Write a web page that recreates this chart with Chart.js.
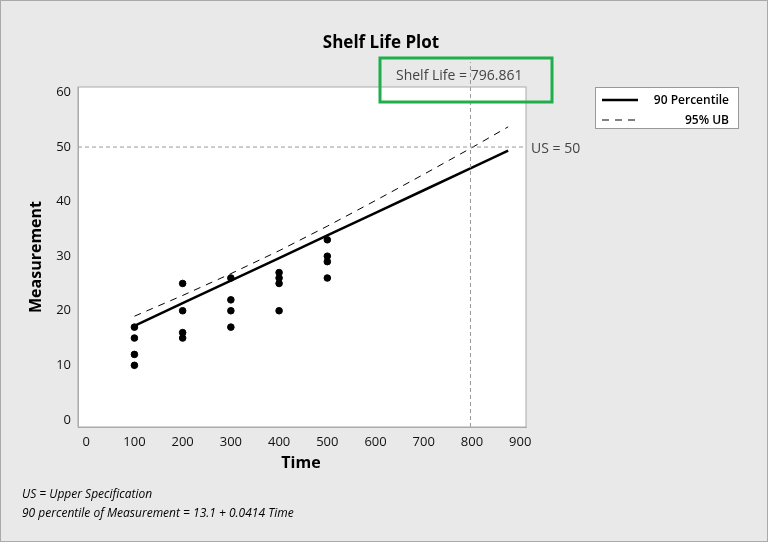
<!DOCTYPE html><html><head><script src="https://cdn.jsdelivr.net/npm/chart.js"></script>
<style>body{margin:0;background:#fff}#w{position:relative;width:768px;height:542px}</style></head><body><div id="w"><canvas id="c" width="768" height="542"></canvas></div>
<script>
const times=[100,100,100,100,200,200,200,200,300,300,300,300,400,400,400,400,500,500,500,500];
const meas=[17,15,12,10,25,20,16,15,26,22,20,17,27,26,25,20,33,30,29,26];
const lineX=[100,200,300,400,500,600,700,800,875];
const pct90=[17.24,21.38,25.52,29.66,33.8,37.94,42.08,46.22,49.33];
const ub95=[19.0,22.8,26.8,31.0,35.5,40.2,45.0,49.9,53.7];
const shelfLife=796.861, US=50;
const deco={id:'deco',beforeDraw(ch){const c=ch.ctx;c.save();c.fillStyle='#e9e9e9';c.fillRect(0,0,768,542);c.strokeStyle='#aaa';c.strokeRect(0.5,0.5,767,541);
const a=ch.chartArea;c.fillStyle='#fff';c.fillRect(a.left,a.top,a.right-a.left,a.bottom-a.top);c.restore();},
afterDraw(ch){const c=ch.ctx,a=ch.chartArea,xs=ch.scales.x,ys=ch.scales.y;c.save();
c.strokeStyle='#999';c.lineWidth=1;c.setLineDash([4,3]);const px=xs.getPixelForValue(shelfLife),py=ys.getPixelForValue(US);
c.beginPath();c.moveTo(px,a.bottom);c.lineTo(px,62);c.moveTo(a.left,py);c.lineTo(a.right,py);c.stroke();c.setLineDash([]);
c.strokeStyle='#aaa';c.strokeRect(a.left,a.top,a.right-a.left,a.bottom-a.top);
c.fillStyle='#000';c.font='bold 17px "Open Sans", sans-serif';c.textAlign='center';c.fillText('Shelf Life Plot',381,48);
c.font='bold 16px "Open Sans", sans-serif';c.fillText('Time',301,468);
c.save();c.translate(41,257);c.rotate(-Math.PI/2);c.fillText('Measurement',0,0);c.restore();
c.fillStyle='#444';c.font='14px "Open Sans", sans-serif';c.textAlign='left';c.fillText('US = 50',531,153);
c.fillText('Shelf Life = '+shelfLife,396,80);
c.strokeStyle='#1fae4b';c.lineWidth=3;c.strokeRect(380,58,172,44);
c.strokeStyle='#999';c.lineWidth=1;c.fillStyle='#fff';c.fillRect(595,87,143,41);c.strokeRect(595.5,87.5,143,41);
c.strokeStyle='#000';c.lineWidth=2.5;c.beginPath();c.moveTo(602,100);c.lineTo(638,100);c.stroke();
c.lineWidth=1;c.setLineDash([7,6]);c.beginPath();c.moveTo(602,120);c.lineTo(638,120);c.stroke();c.setLineDash([]);
c.fillStyle='#000';c.font='600 12px "Open Sans", sans-serif';c.textAlign='right';c.fillText('90 Percentile',729,104);c.fillText('95% UB',729,124);
c.textAlign='left';c.font='italic 12px "Open Sans", sans-serif';c.fillText('US = Upper Specification',22,498);c.fillText('90 percentile of Measurement = 13.1 + 0.0414 Time',22,517);
c.restore();}};
new Chart(document.getElementById('c'),{type:'scatter',data:{datasets:[
{data:times.map((t,i)=>({x:t,y:meas[i]})),backgroundColor:'#000',borderColor:'#000',pointRadius:3.3},
{type:'line',data:lineX.map((t,i)=>({x:t,y:pct90[i]})),borderColor:'#000',borderWidth:2.5,pointRadius:0,fill:false},
{type:'line',data:lineX.map((t,i)=>({x:t,y:ub95[i]})),borderColor:'#000',borderWidth:1,borderDash:[7,6],pointRadius:0,fill:false}]},
options:{responsive:false,animation:false,events:[],layout:{padding:{left:0,right:242,top:87,bottom:0}},
plugins:{legend:{display:false},tooltip:{enabled:false}},
scales:{x:{type:'linear',min:-17,max:912,afterFit(s){s.height=115;},afterBuildTicks(s){s.ticks=[0,100,200,300,400,500,600,700,800,900].map(v=>({value:v}));},
grid:{display:false,drawTicks:true,tickLength:5,color:'#666'},border:{color:'#aaa'},ticks:{color:'#111',font:{size:13,family:'"Open Sans"'},padding:2}},
y:{min:-1.3,max:61,afterFit(s){s.width=78;},afterBuildTicks(s){s.ticks=[0,10,20,30,40,50,60].map(v=>({value:v}));},
grid:{display:false,tickLength:5,color:'#666'},border:{color:'#aaa'},ticks:{color:'#111',font:{size:13,family:'"Open Sans"'},padding:2}}}},
plugins:[deco]});
</script></body></html>
